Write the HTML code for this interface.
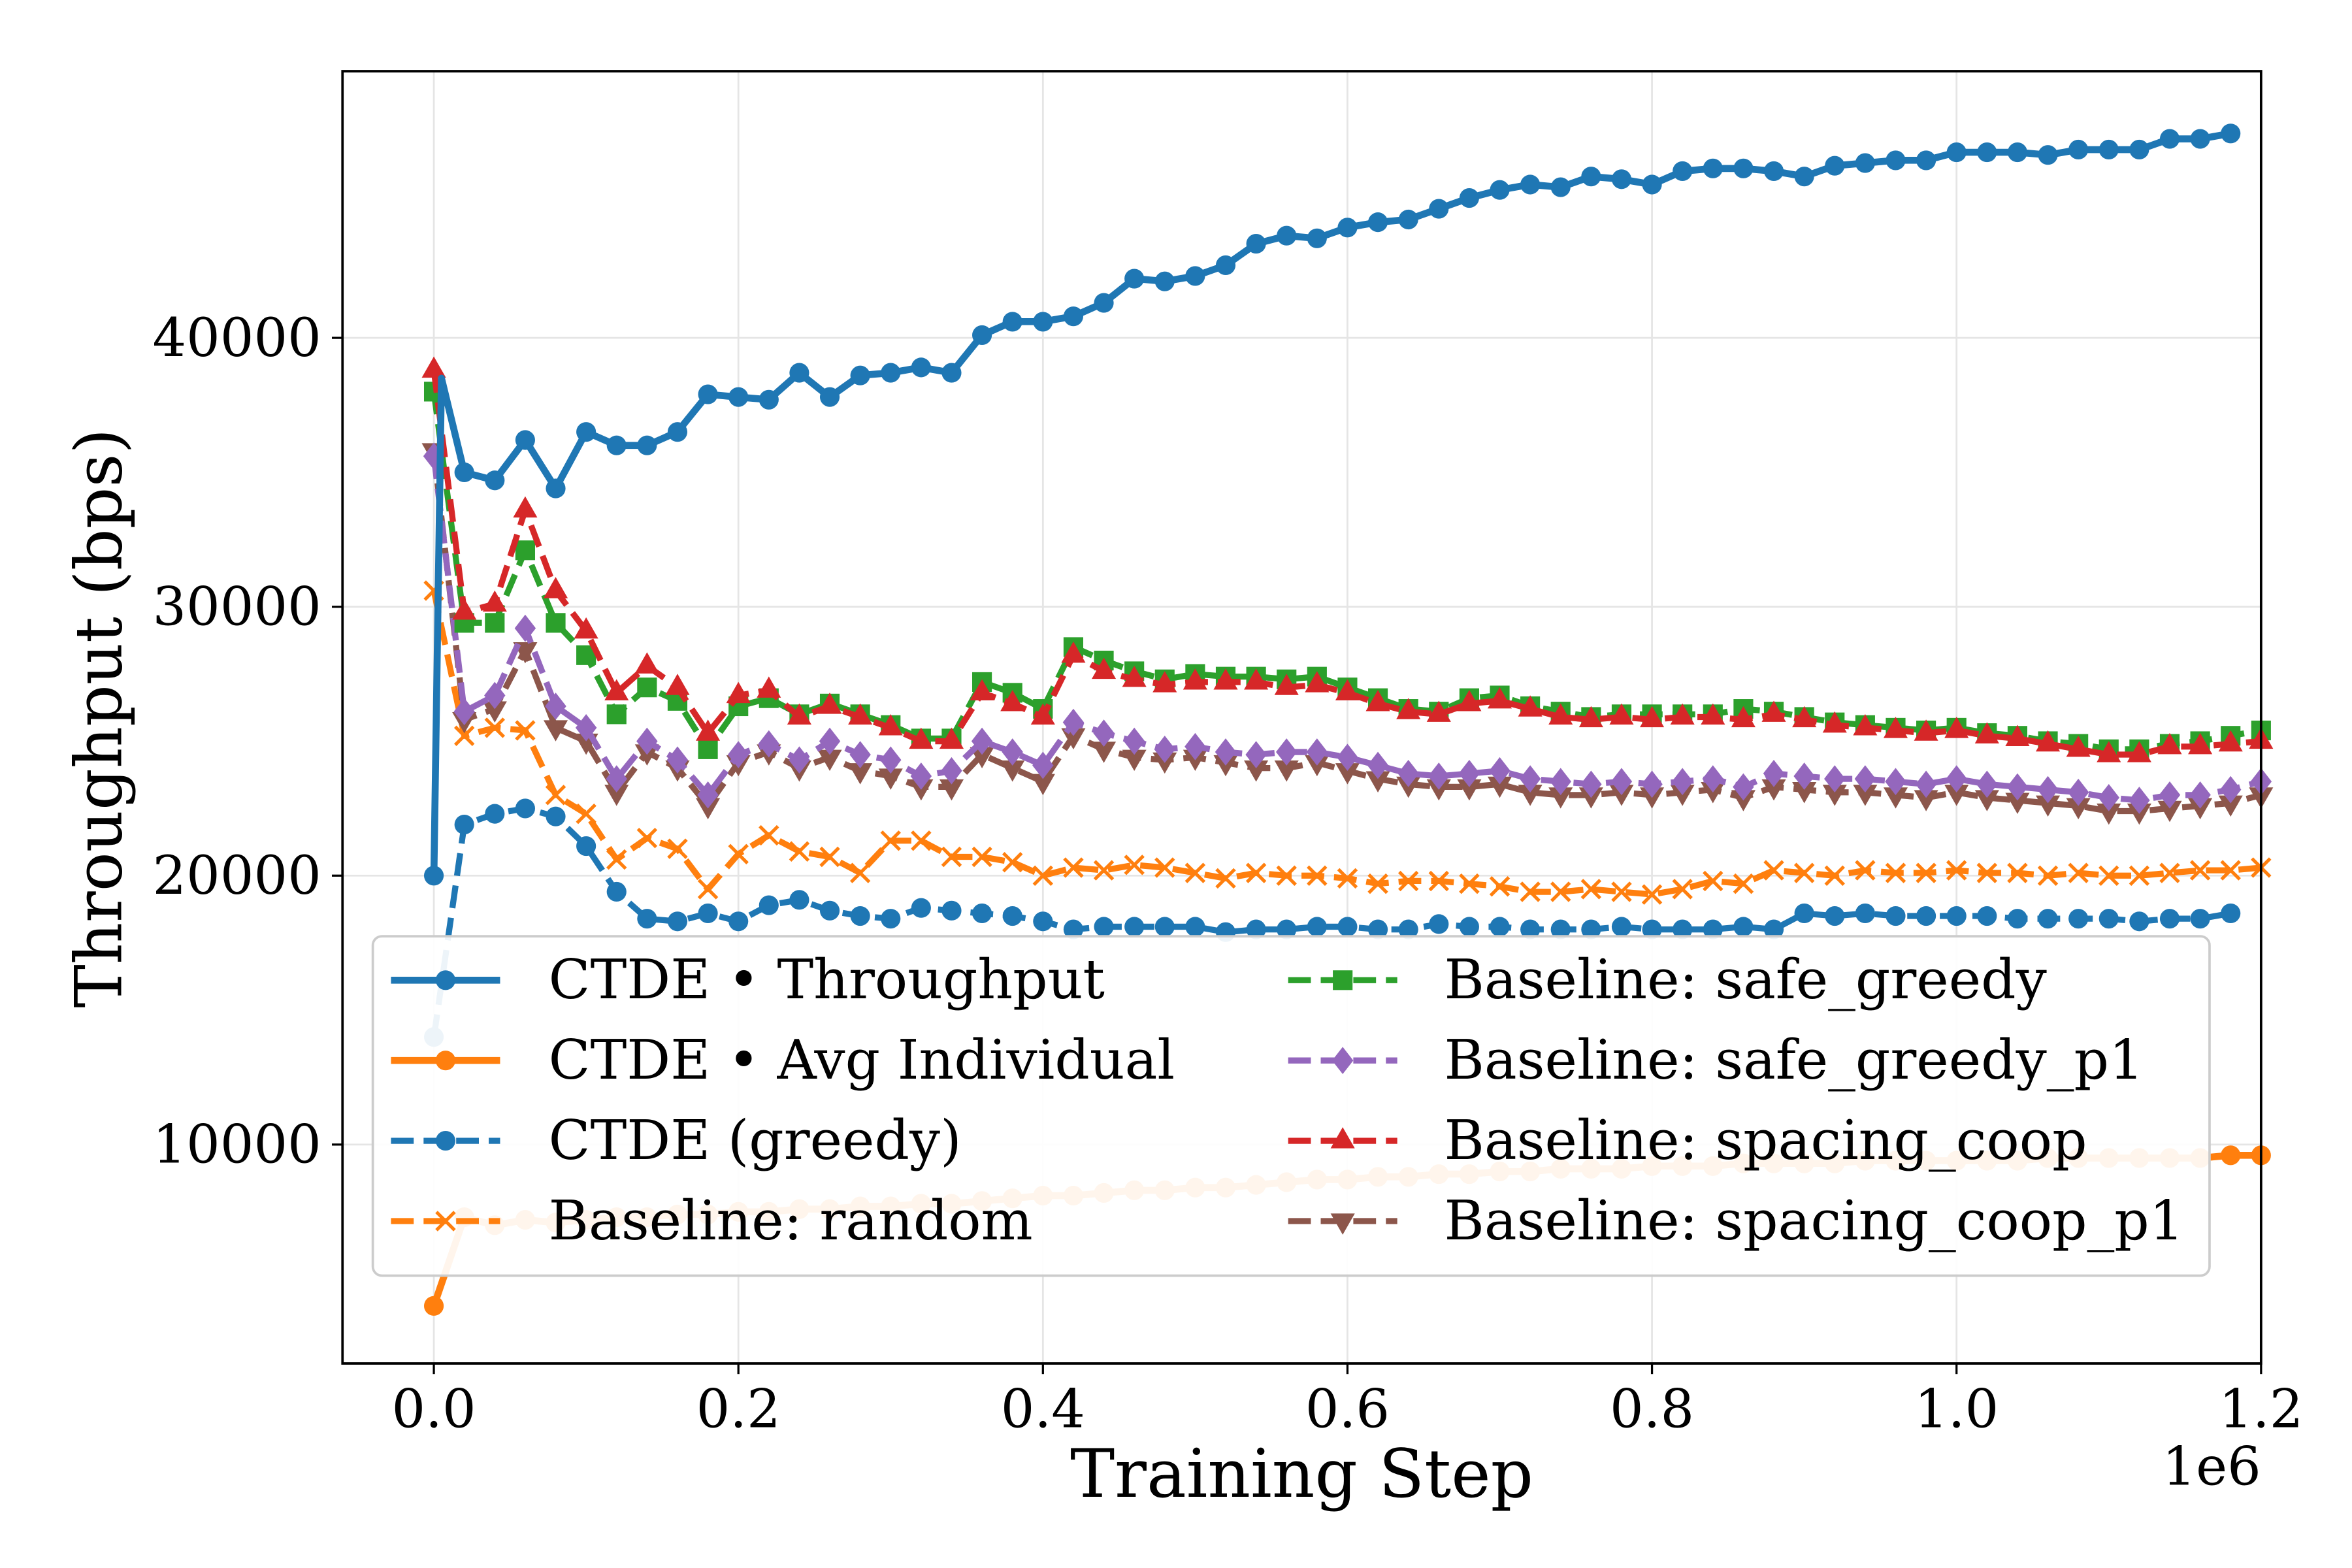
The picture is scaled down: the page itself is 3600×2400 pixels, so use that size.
<!DOCTYPE html>
<html><head><meta charset="utf-8"><style>
html,body{margin:0;padding:0;background:#fff;}
svg{display:block;}
text{font-family:"DejaVu Serif","Liberation Serif",serif;fill:#000;}
</style></head><body>
<svg id="chart" width="3600" height="2400" viewBox="0 0 1552 1035" preserveAspectRatio="none" xmlns="http://www.w3.org/2000/svg">
<g id="grid"></g>
<g id="series"></g>
<rect x="226" y="47" width="1266" height="853" fill="none" stroke="#000" stroke-width="1.6"/>
<g id="axes"></g>
<text x="859" y="988" font-size="44" text-anchor="middle">Training Step</text>
<text x="1492" y="980" font-size="35" text-anchor="end">1e6</text>
<text transform="translate(80,474) rotate(-90)" font-size="43" text-anchor="middle">Throughput (bps)</text>
<g id="legend"></g>
</svg>
<script>
const xTicks=[0,0.2,0.4,0.6,0.8,1.0,1.2];
const xTickLabels=["0.0","0.2","0.4","0.6","0.8","1.0","1.2"];
const yTicks=[10000,20000,30000,40000];
const yTickLabels=["10000","20000","30000","40000"];
const steps=[0,0.02,0.04,0.06,0.08,0.1,0.12,0.14,0.16,0.18,0.2,0.22,0.24,0.26,0.28,0.3,0.32,0.34,0.36,0.38,0.4,0.42,0.44,0.46,0.48,0.5,0.52,0.54,0.56,0.58,0.6,0.62,0.64,0.66,0.68,0.7,0.72,0.74,0.76,0.78,0.8,0.82,0.84,0.86,0.88,0.9,0.92,0.94,0.96,0.98,1.0,1.02,1.04,1.06,1.08,1.1,1.12,1.14,1.16,1.18,1.2];
const ctdeSteps=[0,0.005,0.02,0.04,0.06,0.08,0.1,0.12,0.14,0.16,0.18,0.2,0.22,0.24,0.26,0.28,0.3,0.32,0.34,0.36,0.38,0.4,0.42,0.44,0.46,0.48,0.5,0.52,0.54,0.56,0.58,0.6,0.62,0.64,0.66,0.68,0.7,0.72,0.74,0.76,0.78,0.8,0.82,0.84,0.86,0.88,0.9,0.92,0.94,0.96,0.98,1.0,1.02,1.04,1.06,1.08,1.1,1.12,1.14,1.16,1.18];
const ctdeThroughput=[20000,38500,35000,34700,36200,34400,36500,36000,36000,36500,37900,37800,37700,38700,37800,38600,38700,38900,38700,40100,40600,40600,40800,41300,42200,42100,42300,42700,43500,43800,43700,44100,44300,44400,44800,45200,45500,45700,45600,46000,45900,45700,46200,46300,46300,46200,46000,46400,46500,46600,46600,46900,46900,46900,46800,47000,47000,47000,47400,47400,47600];
const ctdeAvgIndividual=[4000,7300,7000,7200,7100,7200,7300,7300,7400,7400,7500,7500,7600,7600,7700,7700,7800,7800,7900,8000,8100,8100,8200,8300,8300,8400,8400,8500,8600,8700,8700,8800,8800,8900,8900,9000,9000,9100,9100,9100,9200,9200,9200,9300,9300,9300,9300,9400,9400,9400,9400,9400,9400,9500,9500,9500,9500,9500,9500,9600,9600];
const ctdeGreedy=[14000,21900,22300,22500,22200,21100,19400,18400,18300,18600,18300,18900,19100,18700,18500,18400,18800,18700,18600,18500,18300,18000,18100,18100,18100,18100,17900,18000,18000,18100,18100,18000,18000,18200,18100,18100,18000,18000,18000,18100,18000,18000,18000,18100,18000,18600,18500,18600,18500,18500,18500,18500,18400,18400,18400,18400,18300,18400,18400,18600];
const baseRandom=[30600,25200,25500,25400,23000,22300,20600,21400,21000,19500,20800,21500,20900,20700,20100,21300,21300,20700,20700,20500,20000,20300,20200,20400,20300,20100,19900,20100,20000,20000,19900,19700,19800,19800,19700,19600,19400,19400,19500,19400,19300,19500,19800,19700,20200,20100,20000,20200,20100,20100,20200,20100,20100,20000,20100,20000,20000,20100,20200,20200,20300];
const baseSafeGreedy=[38000,29400,29400,32100,29400,28200,26000,27000,26500,24700,26300,26600,26000,26400,26000,25600,25100,25100,27200,26800,26200,28500,28000,27600,27300,27500,27400,27400,27300,27400,27000,26600,26200,26100,26600,26700,26300,26100,25900,26000,26000,26000,26000,26200,26100,25900,25700,25600,25500,25400,25500,25300,25200,25000,24900,24700,24700,24900,25000,25200,25400];
const baseSafeGreedyP1=[35600,26100,26700,29200,26300,25500,23600,25000,24300,23000,24500,24900,24300,25000,24500,24300,23700,23900,25000,24600,24100,25700,25300,25000,24700,24800,24600,24500,24600,24600,24400,24100,23800,23700,23800,23900,23600,23500,23400,23500,23400,23500,23600,23300,23800,23700,23600,23600,23500,23400,23600,23400,23300,23200,23100,22900,22800,23000,23000,23200,23500];
const baseSpacingCoop=[38800,29800,30100,33600,30600,29100,26800,27800,27000,25300,26700,26900,25900,26300,25900,25500,25000,25000,26800,26400,25900,28200,27600,27300,27100,27200,27200,27200,27000,27100,26800,26400,26100,26000,26400,26500,26200,25900,25800,25900,25800,25900,25900,25800,26000,25800,25600,25500,25400,25300,25400,25200,25100,24900,24700,24500,24500,24800,24800,24900,25000];
const baseSpacingCoopP1=[35800,25800,26200,28400,25500,25000,23100,24600,24000,22600,24200,24600,24000,24400,23900,23700,23300,23300,24500,24000,23500,25200,24700,24400,24300,24400,24200,24000,24000,24200,23900,23600,23400,23300,23300,23400,23100,23000,23000,23100,23000,23100,23200,22900,23300,23200,23100,23100,23000,22900,23100,22900,22800,22700,22600,22400,22400,22500,22600,22700,23000];

const NS="http://www.w3.org/2000/svg";
const X0=226,X1=1492,XMIN=-0.06,XMAX=1.2;
function xs(v){return X0+(v-XMIN)/(XMAX-XMIN)*(X1-X0);}
function ys(v){return 223+(40000-v)/10000*177.5;}
function mk(tag,attrs,parent){const e=document.createElementNS(NS,tag);for(const k in attrs)e.setAttribute(k,attrs[k]);parent.appendChild(e);return e;}

const grid=document.getElementById('grid'),axes=document.getElementById('axes');
xTicks.forEach((t,i)=>{
  const gl=mk('line',{x1:xs(t),x2:xs(t),y1:47,y2:900,stroke:'#e5e5e5','stroke-width':1.2},grid);
  
  
  const tk=mk('line',{x1:xs(t),x2:xs(t),y1:900,y2:907,stroke:'#000','stroke-width':1.4},axes);
  
  
  const tl=mk('text',{x:xs(t),y:942,'font-size':35,'text-anchor':'middle'},axes);
  tl.textContent=xTickLabels[i];
  
  
});
yTicks.forEach((t,i)=>{
  const gl=mk('line',{x1:226,x2:1492,y1:ys(t),y2:ys(t),stroke:'#e5e5e5','stroke-width':1.2},grid);
  
  
  const tk=mk('line',{x1:219,x2:226,y1:ys(t),y2:ys(t),stroke:'#000','stroke-width':1.4},axes);
  
  
  const tl=mk('text',{x:212,y:ys(t)+12,'font-size':35,'text-anchor':'end'},axes);
  tl.textContent=yTickLabels[i];
  
  
});

function marker(g,type,x,y,color){
  let e;
  if(type==='o')e=mk('circle',{cx:x,cy:y,r:6.5,fill:color},g);
  else if(type==='s')e=mk('rect',{x:x-6.5,y:y-6.5,width:13,height:13,fill:color},g);
  else if(type==='^')e=mk('polygon',{points:`${x},${y-9} ${x-8},${y+5} ${x+8},${y+5}`,fill:color},g);
  else if(type==='v')e=mk('polygon',{points:`${x},${y+9} ${x-8},${y-5} ${x+8},${y-5}`,fill:color},g);
  else if(type==='d')e=mk('polygon',{points:`${x},${y-9} ${x-7},${y} ${x},${y+9} ${x+7},${y}`,fill:color},g);
  else if(type==='x')e=mk('path',{d:`M${x-6},${y-6}L${x+6},${y+6}M${x-6},${y+6}L${x+6},${y-6}`,stroke:color,'stroke-width':2.2,fill:'none'},g);
  return e;
}
const seriesDefs=[
 {name:'baseline-random',xv:steps,yv:baseRandom,color:'#ff7f0e',m:'x',dash:true,label:'Baseline: random'},
 {name:'baseline-spacing-coop-p1',xv:steps,yv:baseSpacingCoopP1,color:'#8c564b',m:'v',dash:true,label:'Baseline: spacing_coop_p1'},
 {name:'baseline-safe-greedy-p1',xv:steps,yv:baseSafeGreedyP1,color:'#9467bd',m:'d',dash:true,label:'Baseline: safe_greedy_p1'},
 {name:'baseline-safe-greedy',xv:steps,yv:baseSafeGreedy,color:'#2ca02c',m:'s',dash:true,label:'Baseline: safe_greedy'},
 {name:'baseline-spacing-coop',xv:steps,yv:baseSpacingCoop,color:'#d62728',m:'^',dash:true,label:'Baseline: spacing_coop'},
 {name:'ctde-greedy',xv:steps,yv:ctdeGreedy,color:'#1f77b4',m:'o',dash:true,label:'CTDE (greedy)'},
 {name:'ctde-avg-individual',xv:steps,yv:ctdeAvgIndividual,color:'#ff7f0e',m:'o',dash:false,label:'CTDE • Avg Individual'},
 {name:'ctde-throughput',xv:ctdeSteps,yv:ctdeThroughput,color:'#1f77b4',m:'o',dash:false,label:'CTDE • Throughput'}
];
const sl=document.getElementById('series');
seriesDefs.forEach(s=>{
  const g=mk('g',{},sl);
  
  
  const n=Math.min(s.xv.length,s.yv.length);
  let pts=[];for(let i=0;i<n;i++)pts.push(xs(s.xv[i]).toFixed(1)+','+ys(s.yv[i]).toFixed(1));
  const pl=mk('polyline',{points:pts.join(' '),fill:'none',stroke:s.color,'stroke-width':s.dash?4:4.6,'stroke-linejoin':'round','stroke-dasharray':s.dash?'15,6.5':'none'},g);
  
  
  for(let i=0;i<n;i++){
    if(s.xv===ctdeSteps&&i===1)continue;
    const m=marker(g,s.m,xs(s.xv[i]),ys(s.yv[i]),s.color);
    
    
  }
});

const lg=document.getElementById('legend');
const box=mk('rect',{x:246,y:618,width:1212,height:224,rx:6,fill:'#fff','fill-opacity':0.92,stroke:'#ccc','stroke-width':1.6},lg);


const legendOrder=['ctde-throughput','ctde-avg-individual','ctde-greedy','baseline-random','baseline-safe-greedy','baseline-safe-greedy-p1','baseline-spacing-coop','baseline-spacing-coop-p1'];
legendOrder.forEach((nm,i)=>{
  const s=seriesDefs.find(d=>d.name===nm);
  const col=i<4?0:1,row=i%4;
  const hx=col?850:258,tx=col?953:362,y=647+row*53;
  const g=mk('g',{},lg);
  
  
  mk('line',{x1:hx,x2:hx+72,y1:y,y2:y,stroke:s.color,'stroke-width':s.dash?4:4.6,'stroke-dasharray':s.dash?'15,6.5':'none'},g);
  marker(g,s.m,hx+36,y,s.color);
  const t=mk('text',{x:tx,y:y+12,'font-size':36},g);
  t.textContent=s.label;
});
</script>
</body></html>
